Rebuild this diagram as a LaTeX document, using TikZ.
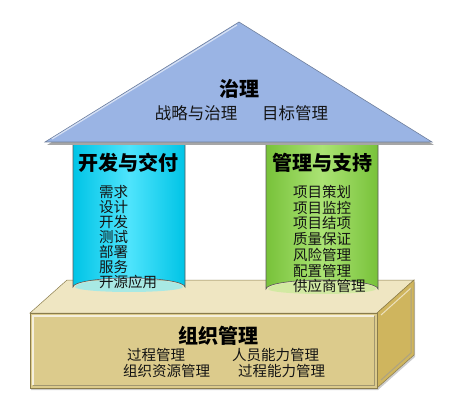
\documentclass[tikz,border=0pt]{standalone}
\usepackage{fontspec}
\setmainfont{Noto Sans CJK SC}
\usetikzlibrary{shadings}
\definecolor{roof}{HTML}{9AB4E4}
\definecolor{roofedge}{HTML}{6F7F9C}
\definecolor{cyanA}{HTML}{00C4E6}
\definecolor{cyanB}{HTML}{4FE4FC}
\definecolor{cyanC}{HTML}{7AEBFC}
\definecolor{grnA}{HTML}{78C23A}
\definecolor{grnB}{HTML}{ABE374}
\definecolor{grnC}{HTML}{BFEC8E}
\definecolor{bfront}{HTML}{DCCB8C}
\definecolor{btop}{HTML}{EFE6C2}
\definecolor{bright}{HTML}{CFB55E}
\definecolor{bedge}{HTML}{8A7C4C}
\definecolor{txt}{HTML}{141414}
\tikzset{
  title/.style={font=\bfseries\fontsize{20}{22}\selectfont, text=black, inner sep=0pt},
  item/.style={font=\fontsize{14.5}{15}\selectfont, text=txt, inner sep=0pt, anchor=west},
  sub/.style={font=\fontsize{16.5}{18}\selectfont, text=txt, inner sep=0pt},
  cyl/.style={draw=gray!70!black, line width=0.6pt}
}
\begin{document}
\begin{tikzpicture}[x=1pt,y=-1pt]
\useasboundingbox (0,0) rectangle (450,409);
% base box
\fill[black!20] (31,315) -- (378,315) -- (415,282) -- (415,357) -- (378,390) -- (31,390) -- cycle;
\path[fill=btop, draw=bedge, line width=0.5pt] (30,313) -- (67,280) -- (414,280) -- (377,313) -- cycle;
\path[fill=bright, draw=bedge, line width=0.5pt] (377,313) -- (414,280) -- (414,355) -- (377,388) -- cycle;
\path[fill=bfront, draw=bedge, line width=0.6pt] (30,313) rectangle (377,388);
\draw[white!70!bfront, line width=1.2pt] (33,385) -- (33,316) -- (374,316);
\draw[bedge!80, line width=1pt] (374,316) -- (374,385) -- (33,385);
\draw[white!60!bright, line width=1pt] (381,315) -- (411,288);
\draw[bedge!70, line width=1pt] (411,288) -- (411,353) -- (381,380);
% left cylinder
\path[cyl, left color=cyanA, right color=cyanA, middle color=cyanB]
  (73,135) -- (73,287) arc (180:360:56 and 9) -- (185,135) -- cycle;
\path[fill=cyanC, opacity=0.6] (75,287) arc (180:360:54 and 8) arc (0:180:54 and 5) -- cycle;
% right cylinder
\path[cyl, left color=grnA, right color=grnA, middle color=grnB]
  (266,135) -- (266,289) arc (180:360:56 and 9) -- (378,135) -- cycle;
\path[fill=grnC, opacity=0.6] (268,289) arc (180:360:54 and 8) arc (0:180:54 and 5) -- cycle;
% roof
\fill[black!35] (241,24) -- (434,145) -- (47,145) -- cycle;
\path[fill=roof, draw=roofedge, line width=0.6pt] (239,22) -- (432,142) -- (45,142) -- cycle;
\draw[white!60!roof, line width=1.2pt] (52,139) -- (237,25);
% texts
\node[title] (gov) at (239,89) {治理};
\node[sub] (gov1) at (196,113) {战略与治理};
\node[sub] (gov2) at (295,113) {目标管理};
\node[title] (dev) at (128,163) {开发与交付};
\node[title] (mgt) at (322,163) {管理与支持};
\foreach \t [count=\i] in {需求,设计,开发,测试,部署,服务,开源应用}
  \node[item] (l\i) at (99,{192+15*(\i-1)}) {\t};
\foreach \t [count=\i] in {项目策划,项目监控,项目结项,质量保证,风险管理,配置管理,供应商管理}
  \node[item] (r\i) at (293,{192+15.7*(\i-1)}) {\t};
\node[title] (org) at (218,336) {组织管理};
\node[item] (o1) at (127,355) {过程管理};
\node[item] (o2) at (232,355) {人员能力管理};
\node[item] (o3) at (123,371) {组织资源管理};
\node[item] (o4) at (238,371) {过程能力管理};
\end{tikzpicture}
\end{document}
